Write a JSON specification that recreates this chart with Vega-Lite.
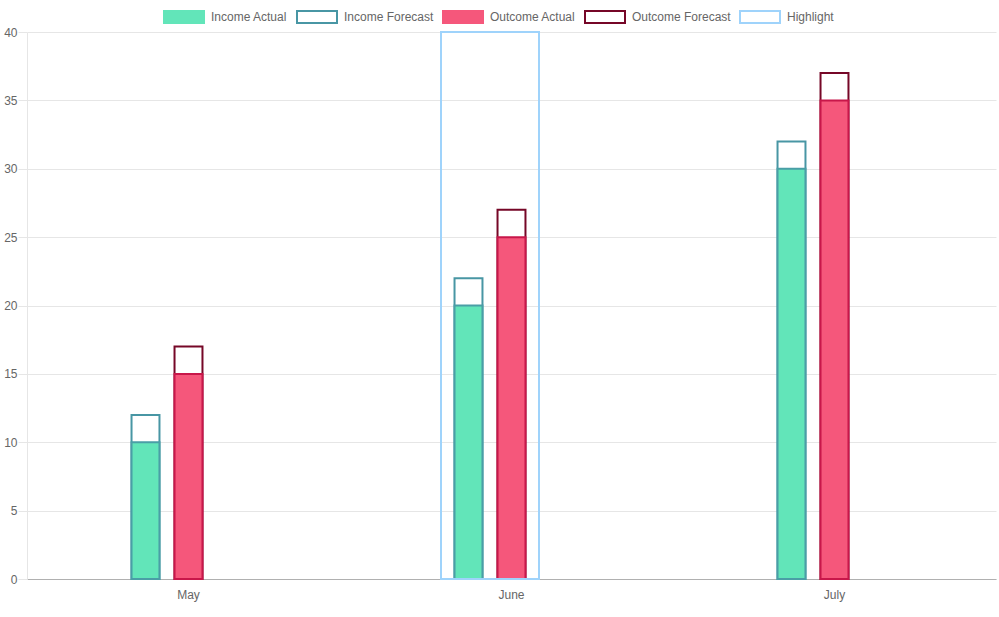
{
  "$schema": "https://vega.github.io/schema/vega-lite/v6.json",
  "width": 969,
  "height": 547,
  "autosize": {"type": "none"},
  "padding": {"left": 27, "top": 32, "right": 3, "bottom": 38},
  "background": "white",
  "config": {
    "view": {"stroke": null},
    "font": "Liberation Sans",
    "axis": {"labelFont": "Liberation Sans", "labelFontSize": 12, "labelColor": "#666666", "title": null},
    "legend": {
      "labelFont": "Liberation Sans", "labelFontSize": 12, "labelColor": "#666666",
      "orient": "none", "legendX": 136, "legendY": -36, "direction": "horizontal",
      "symbolType": "M-1,-0.3H1V0.3H-1Z", "symbolSize": 1600, "symbolStrokeWidth": 2,
      "labelOffset": 6, "columnPadding": 5, "title": null
    }
  },
  "datasets": {
    "bars": [
      {"month": "May", "group": "Income", "kind": "actual", "series": "Income Actual", "value": 10},
      {"month": "May", "group": "Income", "kind": "forecast", "series": "Income Forecast", "value": 12},
      {"month": "May", "group": "Outcome", "kind": "actual", "series": "Outcome Actual", "value": 15},
      {"month": "May", "group": "Outcome", "kind": "forecast", "series": "Outcome Forecast", "value": 17},
      {"month": "June", "group": "Income", "kind": "actual", "series": "Income Actual", "value": 20},
      {"month": "June", "group": "Income", "kind": "forecast", "series": "Income Forecast", "value": 22},
      {"month": "June", "group": "Outcome", "kind": "actual", "series": "Outcome Actual", "value": 25},
      {"month": "June", "group": "Outcome", "kind": "forecast", "series": "Outcome Forecast", "value": 27},
      {"month": "July", "group": "Income", "kind": "actual", "series": "Income Actual", "value": 30},
      {"month": "July", "group": "Income", "kind": "forecast", "series": "Income Forecast", "value": 32},
      {"month": "July", "group": "Outcome", "kind": "actual", "series": "Outcome Actual", "value": 35},
      {"month": "July", "group": "Outcome", "kind": "forecast", "series": "Outcome Forecast", "value": 37}
    ],
    "highlight": [
      {"month": "June", "series": "Highlight", "value": 40}
    ]
  },
  "encoding": {
    "x": {
      "field": "month", "type": "nominal", "sort": ["May", "June", "July"],
      "scale": {"domain": ["May", "June", "July"], "paddingInner": 0, "paddingOuter": 0},
      "axis": {"labelAngle": 0, "ticks": false, "grid": false, "domainColor": "#b0b0b0", "labelPadding": 10}
    },
    "y": {
      "field": "value", "type": "quantitative",
      "scale": {"domain": [0, 40], "nice": false},
      "axis": {"values": [0, 5, 10, 15, 20, 25, 30, 35, 40], "gridColor": "#e6e6e6", "domainColor": "#e6e6e6", "tickColor": "#e6e6e6", "tickSize": 9, "labelPadding": 1}
    }
  },
  "layer": [
    {
      "data": {"name": "bars"},
      "transform": [{"filter": "datum.kind === 'forecast'"}],
      "mark": {"type": "bar", "strokeWidth": 2},
      "encoding": {
        "xOffset": {"field": "group", "type": "nominal", "scale": {"domain": ["Income", "Outcome", "Spare"], "range": [97, 226], "paddingInner": 0.35, "paddingOuter": 0.175}},
        "fill": {"field": "series", "type": "nominal", "scale": {"domain": ["Income Actual", "Income Forecast", "Outcome Actual", "Outcome Forecast", "Highlight"], "range": ["#62e5b9", "transparent", "#f5577b", "transparent", "transparent"]}},
        "stroke": {"field": "series", "type": "nominal", "scale": {"domain": ["Income Actual", "Income Forecast", "Outcome Actual", "Outcome Forecast", "Highlight"], "range": ["#62e5b9", "#4896a4", "#f5577b", "#760727", "#9fd3fb"]}}
      }
    },
    {
      "data": {"name": "bars"},
      "transform": [{"filter": "datum.kind === 'actual'"}],
      "mark": {"type": "bar", "strokeWidth": 2},
      "encoding": {
        "xOffset": {"field": "group", "type": "nominal"},
        "fill": {"field": "series", "type": "nominal"},
        "stroke": {"condition": {"test": "datum.group === 'Income'", "value": "#4a9ea6"}, "value": "#c8174a"}
      }
    },
    {
      "data": {"name": "highlight"},
      "mark": {"type": "bar", "strokeWidth": 2, "width": 98, "xOffset": -21.5},
      "encoding": {
        "fill": {"field": "series", "type": "nominal"},
        "stroke": {"field": "series", "type": "nominal"}
      }
    }
  ]
}
